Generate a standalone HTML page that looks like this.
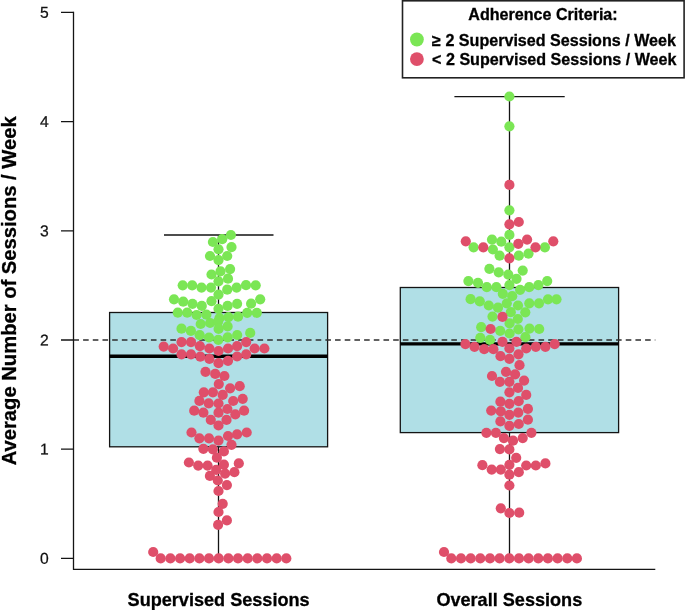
<!DOCTYPE html>
<html lang="en"><head><meta charset="utf-8"><title>Adherence boxplot</title>
<style>html,body{margin:0;padding:0;background:#fff}body{width:685px;height:610px;overflow:hidden}</style></head>
<body>
<svg width="685" height="610" viewBox="0 0 685 610" style="display:block">
<rect width="685" height="610" fill="#fff"/>
<g stroke="#141414" stroke-width="1.3" fill="none">
<path d="M218.5 235V312.5M218.5 446.7V558.2M164 235H273.5"/>
<path d="M509.5 96.6V287.5M509.5 432.6V558.2M454.4 96.6H564.7"/>
<rect x="109.6" y="312.5" width="218" height="134.3" fill="#b0dfe6"/>
<rect x="400.3" y="287.5" width="218.3" height="145.1" fill="#b0dfe6"/>
</g>
<path d="M109.6 356.3H327.6M400.3 343.9H618.6" stroke="#000" stroke-width="3.4" fill="none"/>
<path d="M73.4 340H655.3" stroke="#2e2e2e" stroke-width="1.3" stroke-dasharray="5.6 4.09" fill="none"/>
<path d="M73.5 11.8V569.4M72.9 569.4H655.3" stroke="#141414" stroke-width="1.3" fill="none"/>
<path d="M61 558.4H73.5M61 449.2H73.5M61 340.0H73.5M61 230.8H73.5M61 121.6H73.5M61 12.4H73.5" stroke="#141414" stroke-width="1.3" fill="none"/>
<g font-family="'Liberation Sans', Arial, sans-serif" font-size="15.7" fill="#111" stroke="#111" stroke-width="0.25" text-anchor="middle">
<text transform="translate(44.4 563.8) rotate(-0.03)">0</text><text transform="translate(44.4 454.6) rotate(-0.03)">1</text><text transform="translate(44.4 345.4) rotate(-0.03)">2</text><text transform="translate(44.4 236.2) rotate(-0.03)">3</text><text transform="translate(44.4 127.0) rotate(-0.03)">4</text><text transform="translate(44.4 17.8) rotate(-0.03)">5</text></g>
<g fill="#7be655"><circle cx="230.9" cy="235.0" r="5.1"/><circle cx="222.2" cy="239.2" r="5.1"/><circle cx="212.9" cy="242.0" r="5.1"/><circle cx="231.5" cy="247.1" r="5.1"/><circle cx="218.5" cy="249.3" r="5.1"/><circle cx="210.0" cy="256.0" r="5.1"/><circle cx="227.2" cy="256.0" r="5.1"/><circle cx="218.5" cy="260.1" r="5.1"/><circle cx="230.1" cy="269.1" r="5.1"/><circle cx="220.5" cy="271.4" r="5.1"/><circle cx="211.5" cy="274.5" r="5.1"/><circle cx="228.0" cy="278.7" r="5.1"/><circle cx="218.5" cy="281.3" r="5.1"/><circle cx="182.7" cy="285.3" r="5.1"/><circle cx="192.2" cy="285.3" r="5.1"/><circle cx="201.5" cy="287.6" r="5.1"/><circle cx="211.0" cy="287.6" r="5.1"/><circle cx="227.2" cy="289.7" r="5.1"/><circle cx="236.6" cy="287.6" r="5.1"/><circle cx="246.0" cy="285.2" r="5.1"/><circle cx="255.7" cy="285.3" r="5.1"/><circle cx="218.5" cy="294.6" r="5.1"/><circle cx="174.0" cy="299.3" r="5.1"/><circle cx="183.2" cy="301.7" r="5.1"/><circle cx="192.5" cy="303.8" r="5.1"/><circle cx="201.8" cy="305.9" r="5.1"/><circle cx="211.5" cy="301.2" r="5.1"/><circle cx="218.5" cy="308.8" r="5.1"/><circle cx="227.6" cy="305.9" r="5.1"/><circle cx="237.1" cy="303.8" r="5.1"/><circle cx="251.1" cy="303.7" r="5.1"/><circle cx="260.2" cy="299.3" r="5.1"/><circle cx="177.8" cy="312.7" r="5.1"/><circle cx="187.2" cy="312.7" r="5.1"/><circle cx="196.6" cy="315.0" r="5.1"/><circle cx="206.4" cy="314.7" r="5.1"/><circle cx="219.5" cy="318.2" r="5.1"/><circle cx="228.5" cy="317.1" r="5.1"/><circle cx="238.0" cy="316.7" r="5.1"/><circle cx="247.2" cy="312.8" r="5.1"/><circle cx="256.8" cy="312.8" r="5.1"/><circle cx="200.7" cy="324.0" r="5.1"/><circle cx="210.1" cy="323.0" r="5.1"/><circle cx="218.0" cy="321.7" r="5.1"/><circle cx="227.6" cy="326.4" r="5.1"/><circle cx="218.6" cy="328.9" r="5.1"/><circle cx="181.5" cy="328.7" r="5.1"/><circle cx="190.9" cy="330.9" r="5.1"/><circle cx="199.7" cy="335.2" r="5.1"/><circle cx="209.0" cy="337.5" r="5.1"/><circle cx="218.3" cy="339.8" r="5.1"/><circle cx="227.7" cy="337.4" r="5.1"/><circle cx="237.2" cy="335.0" r="5.1"/><circle cx="250.2" cy="332.9" r="5.1"/></g>
<g fill="#df4f6a"><circle cx="163.7" cy="346.6" r="5.1"/><circle cx="173.1" cy="348.5" r="5.1"/><circle cx="181.5" cy="342.1" r="5.1"/><circle cx="191.0" cy="342.1" r="5.1"/><circle cx="199.9" cy="346.2" r="5.1"/><circle cx="209.4" cy="348.5" r="5.1"/><circle cx="218.5" cy="351.0" r="5.1"/><circle cx="228.0" cy="348.5" r="5.1"/><circle cx="237.1" cy="346.2" r="5.1"/><circle cx="246.2" cy="342.1" r="5.1"/><circle cx="254.6" cy="348.5" r="5.1"/><circle cx="264.4" cy="348.5" r="5.1"/><circle cx="181.5" cy="354.3" r="5.1"/><circle cx="191.0" cy="354.3" r="5.1"/><circle cx="200.3" cy="356.7" r="5.1"/><circle cx="209.4" cy="358.9" r="5.1"/><circle cx="218.5" cy="363.2" r="5.1"/><circle cx="228.0" cy="360.8" r="5.1"/><circle cx="237.1" cy="356.5" r="5.1"/><circle cx="246.2" cy="354.3" r="5.1"/><circle cx="205.5" cy="371.8" r="5.1"/><circle cx="215.2" cy="373.9" r="5.1"/><circle cx="224.4" cy="376.0" r="5.1"/><circle cx="218.8" cy="384.1" r="5.1"/><circle cx="239.7" cy="386.2" r="5.1"/><circle cx="230.1" cy="388.3" r="5.1"/><circle cx="203.8" cy="392.3" r="5.1"/><circle cx="212.9" cy="392.3" r="5.1"/><circle cx="222.7" cy="394.9" r="5.1"/><circle cx="242.7" cy="398.8" r="5.1"/><circle cx="199.4" cy="400.9" r="5.1"/><circle cx="233.2" cy="401.0" r="5.1"/><circle cx="208.7" cy="403.3" r="5.1"/><circle cx="218.5" cy="403.5" r="5.1"/><circle cx="227.4" cy="409.0" r="5.1"/><circle cx="194.2" cy="410.7" r="5.1"/><circle cx="244.1" cy="410.7" r="5.1"/><circle cx="203.4" cy="412.7" r="5.1"/><circle cx="218.5" cy="412.7" r="5.1"/><circle cx="235.3" cy="414.4" r="5.1"/><circle cx="210.8" cy="419.9" r="5.1"/><circle cx="226.5" cy="419.9" r="5.1"/><circle cx="218.5" cy="425.5" r="5.1"/><circle cx="191.5" cy="432.5" r="5.1"/><circle cx="246.7" cy="432.5" r="5.1"/><circle cx="237.1" cy="434.3" r="5.1"/><circle cx="228.0" cy="436.0" r="5.1"/><circle cx="199.4" cy="438.3" r="5.1"/><circle cx="209.0" cy="438.3" r="5.1"/><circle cx="218.5" cy="440.6" r="5.1"/><circle cx="231.5" cy="444.8" r="5.1"/><circle cx="203.4" cy="448.8" r="5.1"/><circle cx="212.9" cy="449.3" r="5.1"/><circle cx="223.9" cy="451.4" r="5.1"/><circle cx="216.9" cy="457.7" r="5.1"/><circle cx="188.9" cy="462.5" r="5.1"/><circle cx="238.8" cy="463.4" r="5.1"/><circle cx="223.9" cy="464.7" r="5.1"/><circle cx="198.2" cy="465.6" r="5.1"/><circle cx="207.6" cy="465.6" r="5.1"/><circle cx="216.2" cy="469.9" r="5.1"/><circle cx="234.4" cy="472.2" r="5.1"/><circle cx="225.1" cy="473.6" r="5.1"/><circle cx="209.9" cy="475.9" r="5.1"/><circle cx="217.8" cy="480.5" r="5.1"/><circle cx="226.9" cy="485.1" r="5.1"/><circle cx="218.5" cy="491.0" r="5.1"/><circle cx="222.7" cy="503.8" r="5.1"/><circle cx="218.5" cy="512.0" r="5.1"/><circle cx="226.9" cy="520.4" r="5.1"/><circle cx="218.1" cy="524.8" r="5.1"/><circle cx="153.2" cy="552.0" r="5.1"/><circle cx="160.7" cy="558.4" r="5.1"/><circle cx="170.4" cy="558.4" r="5.1"/><circle cx="180.1" cy="558.4" r="5.1"/><circle cx="189.7" cy="558.4" r="5.1"/><circle cx="199.4" cy="558.4" r="5.1"/><circle cx="209.0" cy="558.4" r="5.1"/><circle cx="218.7" cy="558.4" r="5.1"/><circle cx="228.4" cy="558.4" r="5.1"/><circle cx="238.0" cy="558.4" r="5.1"/><circle cx="247.7" cy="558.4" r="5.1"/><circle cx="257.3" cy="558.4" r="5.1"/><circle cx="267.0" cy="558.4" r="5.1"/><circle cx="276.7" cy="558.4" r="5.1"/><circle cx="286.3" cy="558.4" r="5.1"/></g>
<g fill="#7be655"><circle cx="509.4" cy="96.5" r="5.1"/><circle cx="509.4" cy="126.3" r="5.1"/><circle cx="509.4" cy="210.3" r="5.1"/><circle cx="509.4" cy="234.9" r="5.1"/><circle cx="492.0" cy="239.6" r="5.1"/><circle cx="501.3" cy="241.7" r="5.1"/><circle cx="473.6" cy="247.3" r="5.1"/><circle cx="509.4" cy="247.3" r="5.1"/><circle cx="544.9" cy="247.3" r="5.1"/><circle cx="492.9" cy="249.5" r="5.1"/><circle cx="528.5" cy="253.6" r="5.1"/><circle cx="499.6" cy="255.7" r="5.1"/><circle cx="518.8" cy="255.7" r="5.1"/><circle cx="489.4" cy="268.8" r="5.1"/><circle cx="522.7" cy="270.6" r="5.1"/><circle cx="498.7" cy="272.3" r="5.1"/><circle cx="508.3" cy="274.6" r="5.1"/><circle cx="516.5" cy="278.8" r="5.1"/><circle cx="468.4" cy="281.1" r="5.1"/><circle cx="547.2" cy="281.1" r="5.1"/><circle cx="478.0" cy="282.8" r="5.1"/><circle cx="538.4" cy="285.1" r="5.1"/><circle cx="509.4" cy="285.1" r="5.1"/><circle cx="486.8" cy="287.2" r="5.1"/><circle cx="496.4" cy="287.2" r="5.1"/><circle cx="529.2" cy="287.2" r="5.1"/><circle cx="520.1" cy="289.8" r="5.1"/><circle cx="502.8" cy="293.8" r="5.1"/><circle cx="512.2" cy="296.2" r="5.1"/><circle cx="470.6" cy="299.2" r="5.1"/><circle cx="479.8" cy="301.4" r="5.1"/><circle cx="488.8" cy="305.5" r="5.1"/><circle cx="498.0" cy="307.7" r="5.1"/><circle cx="506.8" cy="303.3" r="5.1"/><circle cx="518.0" cy="305.5" r="5.1"/><circle cx="529.3" cy="303.3" r="5.1"/><circle cx="539.0" cy="303.3" r="5.1"/><circle cx="548.0" cy="299.3" r="5.1"/><circle cx="556.5" cy="299.3" r="5.1"/><circle cx="510.8" cy="312.2" r="5.1"/><circle cx="525.3" cy="312.3" r="5.1"/><circle cx="492.5" cy="316.6" r="5.1"/><circle cx="517.8" cy="319.0" r="5.1"/><circle cx="509.6" cy="323.4" r="5.1"/><circle cx="481.2" cy="327.2" r="5.1"/><circle cx="500.2" cy="330.8" r="5.1"/><circle cx="509.6" cy="333.5" r="5.1"/><circle cx="518.4" cy="329.3" r="5.1"/><circle cx="529.5" cy="328.6" r="5.1"/><circle cx="539.2" cy="329.0" r="5.1"/><circle cx="480.3" cy="337.8" r="5.1"/><circle cx="490.0" cy="339.9" r="5.1"/><circle cx="525.4" cy="337.2" r="5.1"/></g>
<g fill="#df4f6a"><circle cx="509.4" cy="184.9" r="5.1"/><circle cx="509.4" cy="224.3" r="5.1"/><circle cx="518.8" cy="222.0" r="5.1"/><circle cx="465.8" cy="241.3" r="5.1"/><circle cx="527.1" cy="239.6" r="5.1"/><circle cx="553.3" cy="241.3" r="5.1"/><circle cx="518.3" cy="243.8" r="5.1"/><circle cx="483.3" cy="247.3" r="5.1"/><circle cx="535.5" cy="247.3" r="5.1"/><circle cx="509.4" cy="258.3" r="5.1"/><circle cx="502.5" cy="316.9" r="5.1"/><circle cx="490.6" cy="329.0" r="5.1"/><circle cx="465.4" cy="344.1" r="5.1"/><circle cx="474.5" cy="346.8" r="5.1"/><circle cx="484.2" cy="349.2" r="5.1"/><circle cx="493.4" cy="349.2" r="5.1"/><circle cx="502.5" cy="341.9" r="5.1"/><circle cx="516.5" cy="341.9" r="5.1"/><circle cx="509.4" cy="348.5" r="5.1"/><circle cx="526.2" cy="348.5" r="5.1"/><circle cx="535.8" cy="346.8" r="5.1"/><circle cx="545.4" cy="346.8" r="5.1"/><circle cx="554.7" cy="344.1" r="5.1"/><circle cx="500.5" cy="356.2" r="5.1"/><circle cx="518.5" cy="354.3" r="5.1"/><circle cx="509.4" cy="358.8" r="5.1"/><circle cx="519.5" cy="365.2" r="5.1"/><circle cx="506.0" cy="371.8" r="5.1"/><circle cx="515.1" cy="374.3" r="5.1"/><circle cx="492.0" cy="376.0" r="5.1"/><circle cx="524.1" cy="380.6" r="5.1"/><circle cx="499.9" cy="381.8" r="5.1"/><circle cx="509.4" cy="381.8" r="5.1"/><circle cx="518.0" cy="387.9" r="5.1"/><circle cx="509.4" cy="392.3" r="5.1"/><circle cx="526.2" cy="394.9" r="5.1"/><circle cx="518.7" cy="401.2" r="5.1"/><circle cx="500.4" cy="401.7" r="5.1"/><circle cx="509.4" cy="403.8" r="5.1"/><circle cx="527.9" cy="408.9" r="5.1"/><circle cx="491.2" cy="410.6" r="5.1"/><circle cx="500.8" cy="411.4" r="5.1"/><circle cx="518.3" cy="412.6" r="5.1"/><circle cx="509.4" cy="414.8" r="5.1"/><circle cx="527.9" cy="419.7" r="5.1"/><circle cx="500.4" cy="421.4" r="5.1"/><circle cx="518.8" cy="424.0" r="5.1"/><circle cx="509.4" cy="425.8" r="5.1"/><circle cx="486.4" cy="432.8" r="5.1"/><circle cx="495.9" cy="432.8" r="5.1"/><circle cx="531.4" cy="432.8" r="5.1"/><circle cx="503.9" cy="438.1" r="5.1"/><circle cx="522.7" cy="438.1" r="5.1"/><circle cx="513.0" cy="440.7" r="5.1"/><circle cx="499.9" cy="449.1" r="5.1"/><circle cx="509.4" cy="449.4" r="5.1"/><circle cx="516.2" cy="457.8" r="5.1"/><circle cx="482.4" cy="465.2" r="5.1"/><circle cx="545.4" cy="463.4" r="5.1"/><circle cx="509.4" cy="464.8" r="5.1"/><circle cx="526.2" cy="465.5" r="5.1"/><circle cx="535.8" cy="465.5" r="5.1"/><circle cx="491.7" cy="469.6" r="5.1"/><circle cx="500.8" cy="469.6" r="5.1"/><circle cx="518.8" cy="472.2" r="5.1"/><circle cx="509.4" cy="474.7" r="5.1"/><circle cx="509.4" cy="485.5" r="5.1"/><circle cx="500.8" cy="508.3" r="5.1"/><circle cx="509.4" cy="513.0" r="5.1"/><circle cx="519.2" cy="512.7" r="5.1"/><circle cx="444.0" cy="552.0" r="5.1"/><circle cx="451.3" cy="558.4" r="5.1"/><circle cx="461.0" cy="558.4" r="5.1"/><circle cx="470.7" cy="558.4" r="5.1"/><circle cx="480.3" cy="558.4" r="5.1"/><circle cx="490.0" cy="558.4" r="5.1"/><circle cx="499.6" cy="558.4" r="5.1"/><circle cx="509.3" cy="558.4" r="5.1"/><circle cx="519.0" cy="558.4" r="5.1"/><circle cx="528.6" cy="558.4" r="5.1"/><circle cx="538.3" cy="558.4" r="5.1"/><circle cx="547.9" cy="558.4" r="5.1"/><circle cx="557.6" cy="558.4" r="5.1"/><circle cx="567.3" cy="558.4" r="5.1"/><circle cx="576.9" cy="558.4" r="5.1"/></g>
<g font-family="'Liberation Sans', Arial, sans-serif" font-weight="bold" fill="#000" stroke="#000" stroke-width="0.3">
<text x="218.6" y="605.9" font-size="18.1" text-anchor="middle">Supervised Sessions</text>
<text x="509.3" y="605.7" font-size="18.1" text-anchor="middle">Overall Sessions</text>
<text transform="translate(15.5 290.8) rotate(-90)" font-size="20.2" text-anchor="middle">Average Number of Sessions / Week</text>
<rect x="402.5" y="0.8" width="281.6" height="77" fill="#fff" stroke="#222" stroke-width="1.6"/>
<text x="543.0" y="20.2" font-size="16.1" text-anchor="middle">Adherence Criteria:</text>
<text x="432.1" y="45.8" font-size="16.1">≥ 2 Supervised Sessions / Week</text>
<text x="432.1" y="65.3" font-size="16.1">&lt; 2 Supervised Sessions / Week</text>
</g>
<circle cx="416.9" cy="39.5" r="6.9" fill="#7be655"/><circle cx="416.9" cy="59.1" r="6.9" fill="#df4f6a"/>
</svg>
</body></html>
